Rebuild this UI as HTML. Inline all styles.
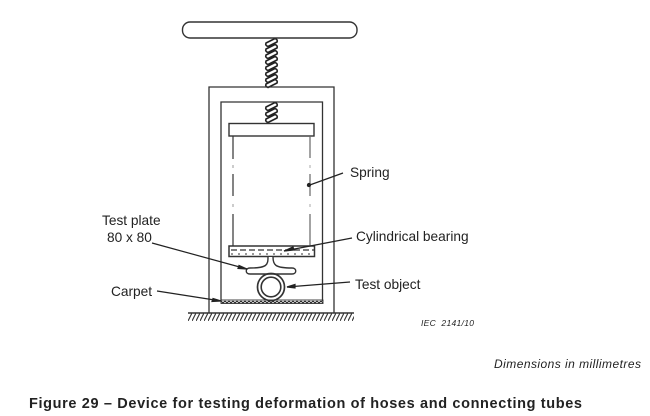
<!DOCTYPE html>
<html>
<head>
<meta charset="utf-8">
<style>
html,body{margin:0;padding:0;background:#fff;width:650px;height:416px;overflow:hidden}
svg{display:block;filter:blur(0.35px)}
text{font-family:"Liberation Sans",sans-serif;fill:#222}
</style>
</head>
<body>
<svg width="650" height="416" viewBox="0 0 650 416" xmlns="http://www.w3.org/2000/svg">
<defs>
<pattern id="h" x="188" y="313" width="4" height="8" patternUnits="userSpaceOnUse">
<path d="M4 0L0 8" stroke="#333" stroke-width="1.100" fill="none"/>
</pattern>
<pattern id="c" x="221" y="300" width="4" height="4" patternUnits="userSpaceOnUse">
<path d="M0 1L2 3L4 1" stroke="#222" stroke-width="1.100" fill="none"/>
</pattern>
<path id="s" d="M266 5L275 .5Q278 1.500 277 4L268 8.500Q265 7.500 266 5Z" fill="#fff" stroke="#222" stroke-width="1.600"/>
</defs>
<g>
<use href="#s" y="38"/><use href="#s" y="44"/><use href="#s" y="50"/><use href="#s" y="56"/>
<use href="#s" y="62"/><use href="#s" y="68"/><use href="#s" y="74"/><use href="#s" y="79"/>
<use href="#s" y="102"/><use href="#s" y="108"/><use href="#s" y="114"/>
</g>
<g fill="none" stroke="#333" stroke-width="1.300">
<rect x="182.500" y="22" width="174.500" height="16" rx="7.500" fill="#fff" stroke-width="1.400"/>
<path d="M209 313V87H334V313" />
<path d="M221 301V102H322.500V301" />
<rect x="229" y="123.500" width="85" height="12.500" stroke-width="1.400"/>
<rect x="229" y="246" width="85.500" height="10.500" stroke-width="1.500"/>
<path d="M231 250H314" stroke-dasharray="6 3" stroke-width="1.300"/>
<path d="M231 254H314" stroke-dasharray="2 5" stroke-width="1"/>
<path d="M233 136V159M233 174V196M233 214V246" stroke-width="1.200"/>
<path d="M233 165V168M233 204V207" stroke-width="1" stroke="#999"/>
<path d="M310 136V158M310 174V196M310 214V246" stroke-width="1.200" stroke="#666"/>
<path d="M310 165V168M310 204V207" stroke-width="1" stroke="#aaa"/>
<path d="M268 257C268 265 267 268 250 268C245 268 245 274 250 274H292C297 274 297 268 292 268C275 268 273 265 273 257" fill="#fff" stroke-width="1.400"/>
<circle cx="271" cy="287" r="13.500" stroke-width="1.700"/>
<circle cx="271" cy="287" r="9.800" stroke-width="1.600"/>
</g>
<rect x="221" y="300" width="102" height="3.500" fill="url(#c)" stroke="#333" stroke-width="0.900"/>
<path d="M188 313H354" stroke="#333" stroke-width="1.400"/>
<rect x="188" y="313" width="166" height="8" fill="url(#h)"/>
<g stroke="#222" stroke-width="1.200" fill="#222">
<path d="M343 173L307 186" fill="none"/><circle cx="309" cy="185" r="1.500"/>
<path d="M352 238L284 251" fill="none"/><path d="M284 251L293 247L294 250Z"/>
<path d="M152 243L247 269" fill="none"/><path d="M247 269L238 268.500L239 265.500Z"/>
<path d="M157 291L221 301" fill="none"/><path d="M221 301L212 301.500L213 298.500Z"/>
<path d="M350 282L287 287" fill="none"/><path d="M287 287L295 284.500L295 288Z"/>
</g>
<g font-size="13.700">
<text x="350" y="177">Spring</text>
<text x="356" y="241">Cylindrical bearing</text>
<text x="355" y="289">Test object</text>
<text x="102" y="225">Test plate</text>
<text x="107" y="242">80 x 80</text>
<text x="111" y="296">Carpet</text>
</g>
<text x="421" y="326" font-size="8.500" font-style="italic" textLength="53" lengthAdjust="spacing">IEC&#160;&#160;2141/10</text>
<text x="494" y="368" font-size="12" font-style="italic" textLength="147" lengthAdjust="spacing">Dimensions in millimetres</text>
<text x="29" y="408" font-size="14.500" font-weight="bold" textLength="553" lengthAdjust="spacing">Figure 29 – Device for testing deformation of hoses and connecting tubes</text>
</svg>
</body>
</html>
